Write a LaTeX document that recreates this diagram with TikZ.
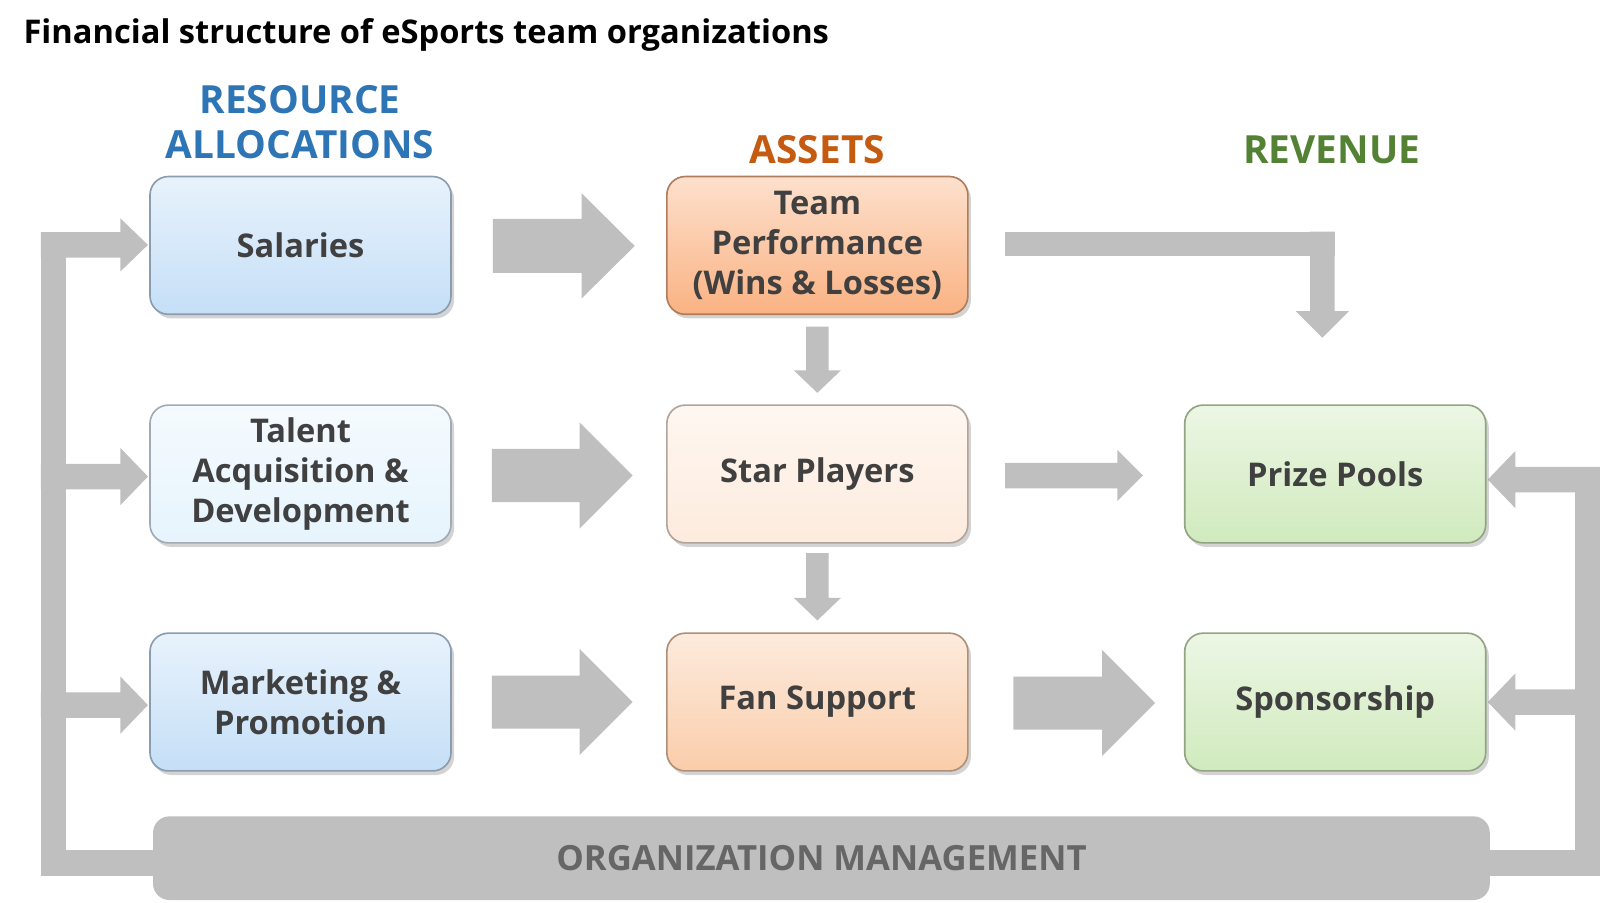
\documentclass[tikz,border=0pt]{standalone}
\usepackage{fontspec}
\setmainfont{Open Sans}
\usetikzlibrary{positioning,shadows}

\definecolor{arrowgray}{HTML}{BFBFBF}
\definecolor{textgray}{HTML}{404040}
\definecolor{hdrblue}{HTML}{2E75B6}
\definecolor{hdrorange}{HTML}{C55A11}
\definecolor{hdrgreen}{HTML}{548235}

% block arrows: from, to, centre, shaft half, head half, head length
\newcommand{\harrow}[6]{%
  \fill[arrowgray] (#1,{#3-#4}) -- ({#2-#6},{#3-#4}) -- ({#2-#6},{#3-#5})
    -- (#2,#3) -- ({#2-#6},{#3+#5}) -- ({#2-#6},{#3+#4}) -- (#1,{#3+#4}) -- cycle;}
\newcommand{\larrow}[6]{%
  \fill[arrowgray] (#1,{#3-#4}) -- ({#2+#6},{#3-#4}) -- ({#2+#6},{#3-#5})
    -- (#2,#3) -- ({#2+#6},{#3+#5}) -- ({#2+#6},{#3+#4}) -- (#1,{#3+#4}) -- cycle;}
\newcommand{\varrow}[6]{%
  \fill[arrowgray] ({#3-#4},#1) -- ({#3-#4},{#2-#6}) -- ({#3-#5},{#2-#6})
    -- (#3,#2) -- ({#3+#5},{#2-#6}) -- ({#3+#4},{#2-#6}) -- ({#3+#4},#1) -- cycle;}

\tikzset{
  box/.style={rounded corners=9pt, draw=#1!70!black, line width=0.8pt,
    minimum width=147.5pt, minimum height=67.5pt, align=center,
    text=textgray, font=\fontsize{16}{19.5}\selectfont\bfseries,
    top color=#1!40!white, bottom color=#1,
    drop shadow={shadow xshift=1.5pt, shadow yshift=-2pt, opacity=0.35}},
  header/.style={font=\fontsize{19}{22}\selectfont\bfseries, align=center}
}

\begin{document}
\begin{tikzpicture}[x=0.5pt,y=-0.5pt]
  \useasboundingbox (0,0) rectangle (1568,884);
  \definecolor{cblue}{HTML}{C5DFF7}
  \definecolor{clight}{HTML}{E6F4FD}
  \definecolor{corange}{HTML}{FAB282}
  \definecolor{cpeach}{HTML}{FDEBDD}
  \definecolor{cfan}{HTML}{FACDAA}
  \definecolor{cgreen}{HTML}{D0EABD}

  %Title and headers
  \node[anchor=west, font=\fontsize{16}{19}\selectfont\bfseries] (title) at (16,34)
    {Financial structure of eSports team organizations};
  \node[header, text=hdrblue] (hres) at (294,120) {RESOURCE\\ALLOCATIONS};
  \node[header, text=hdrorange] (hast) at (801,147) {ASSETS};
  \node[header, text=hdrgreen] (hrev) at (1305,147) {REVENUE};

  %Loop arrows
  \fill[arrowgray] (40,227) rectangle (65,858);
  \fill[arrowgray] (40,833) rectangle (160,858);
  \harrow{40}{145}{240}{12.5}{26}{27}
  \harrow{40}{145}{467}{12.5}{28}{27}
  \harrow{40}{145}{691}{12.5}{28}{27}
  \fill[arrowgray] (1450,833) rectangle (1568,858);
  \fill[arrowgray] (1543,458) rectangle (1568,858);
  \larrow{1568}{1458}{470}{12.5}{28}{27}
  \larrow{1568}{1458}{688}{12.5}{28}{27}

  %Flow arrows
  \harrow{483}{622}{241}{26.5}{51.5}{52}
  \harrow{482}{620}{466}{26}{52}{52}
  \harrow{482}{620}{688}{26}{52}{52}
  \harrow{985}{1120}{466}{12.5}{25}{25}
  \harrow{993}{1132}{689}{26}{52}{52}
  \varrow{320}{385}{801}{11}{23}{22}
  \varrow{542}{608}{801}{11}{23}{22}
  \fill[arrowgray] (985,227) rectangle (1308,251);
  \varrow{227}{331}{1296}{12}{26}{26}

  %Boxes
  \node[box=cblue] (sal) at (294.5,240.5) {Salaries};
  \node[box=clight] (tal) at (294.5,464.5) {Talent\\Acquisition \&\\Development};
  \node[box=cblue] (mkt) at (294.5,688) {Marketing \&\\Promotion};
  \node[box=corange] (team) at (801,240.5) {Team\\Performance\\(Wins \& Losses)};
  \node[box=cpeach] (star) at (801,464.5) {Star Players};
  \node[box=cfan] (fan) at (801,688) {Fan Support};
  \node[box=cgreen] (prize) at (1308.5,464.5) {Prize Pools};
  \node[box=cgreen] (spon) at (1308.5,688) {Sponsorship};

  %Management bar
  \node[fill=arrowgray, rounded corners=8pt, minimum width=655pt, minimum height=41pt,
    text=textgray!80, font=\fontsize{17}{20}\selectfont\bfseries] (mgmt) at (805,841)
    {ORGANIZATION MANAGEMENT};
\end{tikzpicture}
\end{document}
